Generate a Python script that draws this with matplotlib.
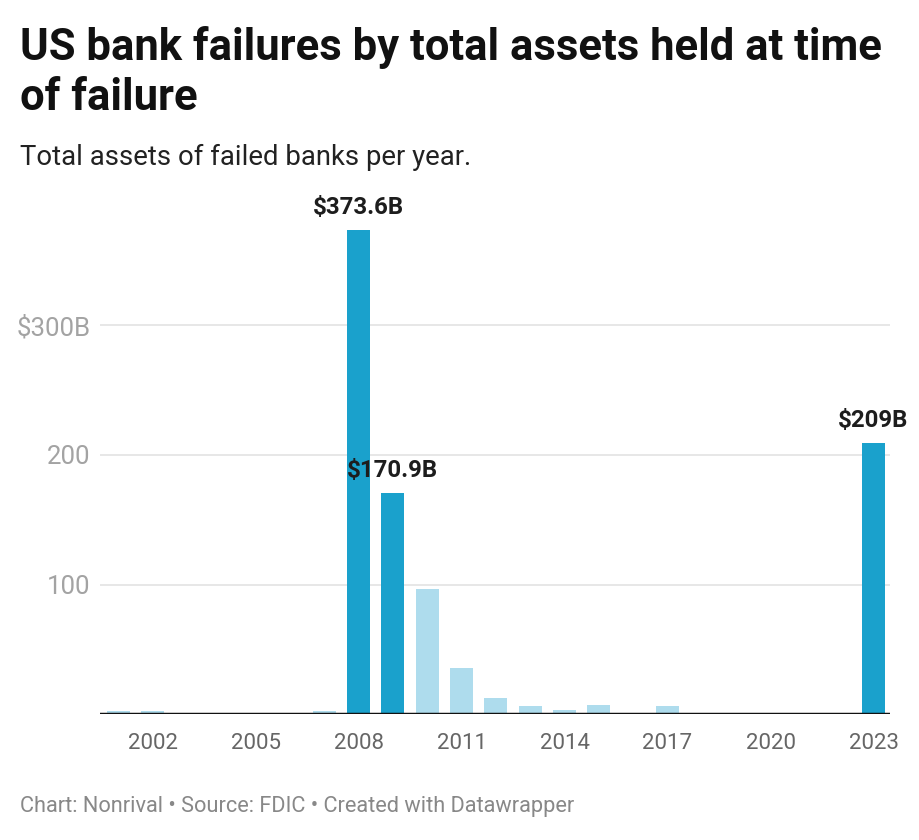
import matplotlib
matplotlib.use("Agg")
import matplotlib.pyplot as plt

years = list(range(2001, 2024))
assets = [2.3, 2.7, 0, 0, 0, 0, 2.6, 373.6, 170.9, 96.5, 35.5, 12.0, 6.2, 3.0, 7.0, 0, 6.0, 0, 0, 0, 0, 0, 209.0]
highlight = [2008, 2009, 2023]
labels = {2008: "$373.6B", 2009: "$170.9B", 2023: "$209B"}
yticks = [100, 200, 300]
yticklabels = ["100", "200", "$300B"]
xticks = [2002, 2005, 2008, 2011, 2014, 2017, 2020, 2023]

plt.rcParams['font.family'] = ['Roboto', 'DejaVu Sans']

W, H = 920, 840
fig = plt.figure(figsize=(W / 100, H / 100), dpi=100)
ax = fig.add_axes([100 / W, 1 - 714 / H, 790 / W, (714 - 200) / H])

dark = "#1aa1cc"
light = "#aedced"
colors = [dark if y in highlight else light for y in years]
ax.bar(years, assets, width=0.67, color=colors, zorder=2)

ax.set_xlim(2000.47, 2023.48)
ax.set_ylim(0, (714 - 200) / 1.295)

for s in ax.spines.values():
    s.set_visible(False)
ax.axhline(0, color="#111111", lw=2.5, zorder=3)
for t in yticks:
    ax.axhline(t, color="#e3e3e3", lw=1.2, zorder=1)

ax.set_yticks(yticks)
ax.set_yticklabels(yticklabels, fontsize=18.5, color="#a3a3a3")
ax.set_xticks(xticks)
ax.set_xticklabels([str(x) for x in xticks], fontsize=16, color="#666666")
ax.tick_params(axis="both", length=0)
ax.tick_params(axis="y", pad=7)
ax.tick_params(axis="x", pad=14)

for y, v in zip(years, assets):
    if y in labels:
        ax.annotate(labels[y], (y, v), xytext=(0, 11.5), textcoords="offset points",
                    ha="center", va="baseline", fontsize=17.3, fontweight="bold",
                    color="#1d1d1d", zorder=4)

fig.text(20 / W, 1 - 60 / H, "US bank failures by total assets held at time",
         fontsize=31.4, fontweight="bold", color="#111111", ha="left", va="baseline")
fig.text(20 / W, 1 - 110 / H, "of failure",
         fontsize=31.4, fontweight="bold", color="#111111", ha="left", va="baseline")
fig.text(20 / W, 1 - 165 / H, "Total assets of failed banks per year.",
         fontsize=19.8, color="#222222", ha="left", va="baseline")
fig.text(20 / W, 1 - 812 / H, "Chart: Nonrival \u2022 Source: FDIC \u2022 Created with Datawrapper",
         fontsize=15.7, color="#888888", ha="left", va="baseline")

fig.savefig("out.png", dpi=100, facecolor="white")
